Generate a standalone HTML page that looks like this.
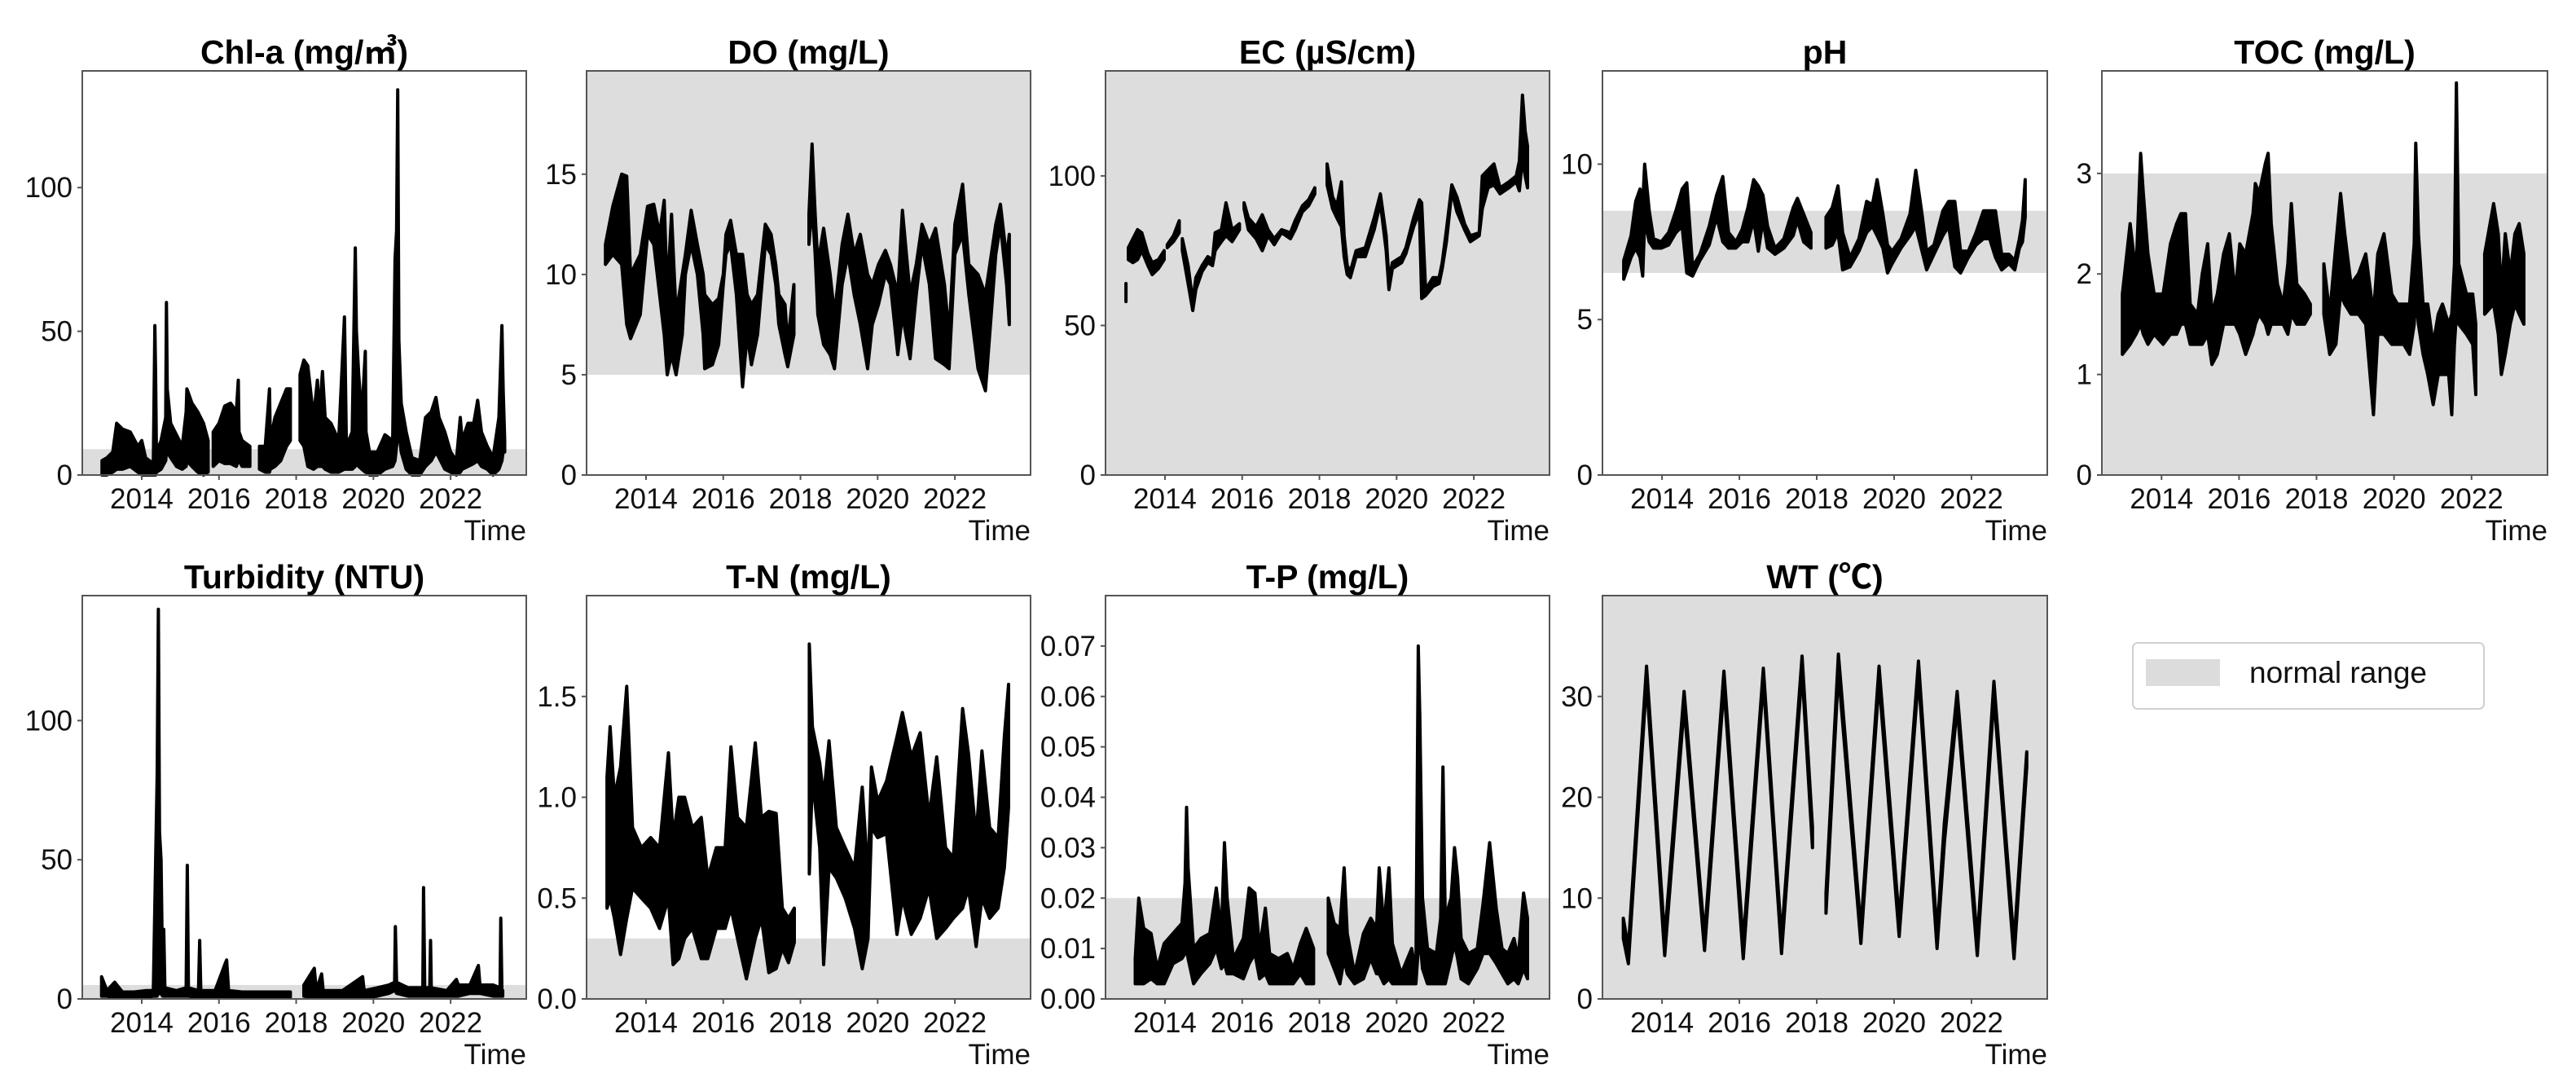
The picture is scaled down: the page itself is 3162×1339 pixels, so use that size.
<!DOCTYPE html>
<html><head><meta charset="utf-8">
<style>
html,body{margin:0;padding:0;background:#fff;}
svg{display:block;font-family:"Liberation Sans","Noto Sans CJK KR",sans-serif;}
</style></head>
<body>
<svg id="fig" width="3162" height="1339" viewBox="0 0 3162 1339" xmlns="http://www.w3.org/2000/svg">
<rect width="3162" height="1339" fill="#fff"/>
<g id="legend">
<rect x="2618" y="789" width="431" height="81" rx="6" fill="#fff" stroke="#d0d0d0" stroke-width="2"/>
<rect x="2634" y="809" width="91" height="33" fill="#dcdcdc"/>
<text x="2761" y="838" font-size="37" fill="#111">normal range</text>
</g>
</svg>
<script>
const xTicks = [2014, 2016, 2018, 2020, 2022];
const xTickLabels = ["2014", "2016", "2018", "2020", "2022"];

const chlData = [[2012.97,0,5],[2013.1,0,6],[2013.25,1,8],[2013.35,2,18],[2013.5,2,16],[2013.7,3,15],[2013.9,1,10],[2014.0,0,12],[2014.1,0,6],[2014.3,0,4],[2014.34,0,52],[2014.36,0,35],[2014.38,1,8],[2014.5,2,12],[2014.62,5,20],[2014.64,8,60],[2014.66,8,30],[2014.75,6,18],[2014.9,3,14],[2015.05,2,10],[2015.15,3,22],[2015.17,5,30],[2015.3,3,25],[2015.45,1,22],[2015.6,0,18],[2015.72,1,12],[2015.78,null,null],[2015.85,3,15],[2016.0,5,18],[2016.15,4,24],[2016.3,4,25],[2016.45,3,22],[2016.5,5,33],[2016.52,5,15],[2016.6,3,12],[2016.8,3,10],[2016.95,null,null],[2017.05,2,10],[2017.2,1,10],[2017.31,1,30],[2017.33,2,12],[2017.45,3,20],[2017.6,5,25],[2017.75,10,30],[2017.85,12,30],[2018.0,null,null],[2018.1,12,35],[2018.2,10,40],[2018.3,3,38],[2018.45,2,20],[2018.55,3,33],[2018.6,3,20],[2018.68,3,36],[2018.75,2,20],[2018.9,1,18],[2019.1,1,12],[2019.25,2,55],[2019.27,2,40],[2019.3,2,10],[2019.45,2,15],[2019.53,3,79],[2019.56,5,50],[2019.62,3,35],[2019.7,2,20],[2019.79,1,43],[2019.81,1,15],[2019.9,0,8],[2020.1,0,8],[2020.3,2,14],[2020.5,3,12],[2020.56,5,75],[2020.6,10,85],[2020.63,15,134],[2020.66,15,47],[2020.72,8,25],[2020.85,2,15],[2021.0,0,6],[2021.2,0,5],[2021.35,3,20],[2021.5,5,22],[2021.62,8,27],[2021.7,6,20],[2021.85,2,15],[2022.0,1,8],[2022.15,0,5],[2022.25,1,20],[2022.3,2,12],[2022.45,3,18],[2022.6,4,18],[2022.7,5,26],[2022.8,3,15],[2022.95,2,10],[2023.1,0,6],[2023.25,2,20],[2023.33,5,52],[2023.36,8,30],[2023.4,8,12]];

const doData = [[2012.95,10.5,11.5],[2013.14,11,13.4],[2013.37,10.5,15],[2013.5,7.5,14.9],[2013.6,6.8,10],[2013.85,8,11],[2014.04,12,13.4],[2014.2,11.5,13.5],[2014.35,9,12],[2014.47,7,13.7],[2014.55,5,9],[2014.66,6,13],[2014.78,5,8],[2014.94,7,10],[2015.02,10,11],[2015.17,11.5,13.2],[2015.33,10,11.5],[2015.48,7,10],[2015.52,5.3,9],[2015.72,5.5,8.5],[2015.88,6.5,8.8],[2016.0,9.5,10],[2016.07,11,12],[2016.19,11.5,12.7],[2016.34,9,11],[2016.5,4.4,11],[2016.62,7,9],[2016.73,5.5,8.5],[2016.89,7,9],[2017.09,11.5,12.5],[2017.24,11,12],[2017.36,9.5,10.5],[2017.44,7.5,9],[2017.6,6,8.5],[2017.67,5.4,6.5],[2017.83,7,9.5],[2018.0,null,null],[2018.22,11.5,13],[2018.3,13.5,16.5],[2018.38,11,13],[2018.45,8,10.5],[2018.6,6.5,12.3],[2018.77,6,10],[2018.88,5.3,8],[2019.08,9.5,11.5],[2019.23,11,13],[2019.39,9,11],[2019.55,7.5,12],[2019.74,5.3,10],[2019.86,7.5,9.5],[2020.02,8.5,10.5],[2020.2,10,11.2],[2020.33,9.5,10.5],[2020.52,6,9],[2020.64,8,13.2],[2020.84,5.8,9],[2021.0,9,10.5],[2021.15,11.5,12.5],[2021.34,9.5,11.5],[2021.5,5.8,12.3],[2021.73,5.5,9.5],[2021.85,5.3,7],[2022.0,11,12.5],[2022.2,12,14.5],[2022.36,9,10.5],[2022.6,5.3,10],[2022.79,4.2,9],[2023.06,11,12.5],[2023.18,12.5,13.5],[2023.34,9.5,10.8],[2023.41,7.5,12]];

const ecData = [[2012.99,58,64],[2013.02,null,null],[2013.05,72,76],[2013.17,71,79],[2013.29,72,82],[2013.4,75,81],[2013.56,70,74],[2013.67,67,71],[2013.83,69,72],[2013.98,72,75],[2014.02,null,null],[2014.06,76,77],[2014.22,78,80],[2014.37,81,85],[2014.41,null,null],[2014.45,75,79],[2014.6,64,70],[2014.72,55,58],[2014.8,62,66],[2014.96,68,70],[2015.11,71,73],[2015.23,70,72],[2015.3,75,81],[2015.46,78,82],[2015.58,80,91],[2015.74,78,82],[2015.93,82,84],[2015.99,null,null],[2016.05,89,91],[2016.16,82,86],[2016.36,79,83],[2016.52,75,87],[2016.67,80,82],[2016.83,77,79],[2017.02,81,82],[2017.25,79,81],[2017.37,82,85],[2017.56,88,90],[2017.72,90,92],[2017.88,94,96],[2018.05,null,null],[2018.2,97,104],[2018.34,89,93],[2018.45,86,90],[2018.57,83,98],[2018.64,73,80],[2018.72,67,70],[2018.8,66,68],[2018.95,73,75],[2019.19,73,76],[2019.42,82,86],[2019.58,91,94],[2019.73,75,80],[2019.8,62,65],[2019.89,69,71],[2020.13,71,73],[2020.24,74,76],[2020.44,83,86],[2020.59,88,92],[2020.65,59,91],[2020.75,60,62],[2020.94,63,66],[2021.1,64,66],[2021.18,69,71],[2021.29,78,82],[2021.43,95,97],[2021.56,88,93],[2021.76,82,84],[2021.91,78,80],[2022.14,80,81],[2022.22,89,100],[2022.37,96,102],[2022.52,97,104],[2022.68,94,96],[2022.91,96,98],[2023.1,98,100],[2023.18,95,105],[2023.26,106,127],[2023.33,100,115],[2023.39,96,110]];

const phData = [[2013.01,6.3,6.9],[2013.2,7.0,7.7],[2013.32,7.3,8.8],[2013.43,7.0,9.2],[2013.5,6.4,8.7],[2013.55,8.2,10.0],[2013.67,7.5,8.5],[2013.78,7.3,7.6],[2013.98,7.3,7.5],[2014.17,7.4,7.8],[2014.36,7.8,8.5],[2014.52,8.0,9.2],[2014.64,6.5,9.4],[2014.79,6.4,6.7],[2014.98,6.9,7.1],[2015.22,7.4,8.0],[2015.41,8.3,9.0],[2015.57,7.5,9.6],[2015.72,7.3,7.8],[2015.91,7.3,7.5],[2016.07,7.5,7.9],[2016.22,7.5,8.6],[2016.37,8.2,9.5],[2016.49,7.2,9.3],[2016.61,8.2,9.0],[2016.73,7.3,8.0],[2016.92,7.1,7.3],[2017.15,7.3,7.6],[2017.39,7.7,8.6],[2017.5,8.2,8.9],[2017.66,7.5,8.4],[2017.85,7.3,7.8],[2018.05,null,null],[2018.24,7.3,8.3],[2018.4,7.4,8.6],[2018.55,7.8,9.3],[2018.67,6.6,7.8],[2018.86,6.7,7.0],[2019.09,7.2,7.6],[2019.29,7.8,8.8],[2019.44,8.0,8.7],[2019.56,7.7,9.5],[2019.71,7.3,8.4],[2019.83,6.5,7.4],[2019.95,6.8,7.2],[2020.18,7.3,7.6],[2020.41,7.7,8.4],[2020.56,8.0,9.8],[2020.72,7.2,8.4],[2020.84,6.6,7.2],[2021.03,7.1,7.4],[2021.26,7.7,8.5],[2021.41,8.0,8.8],[2021.57,6.7,8.8],[2021.72,6.5,7.2],[2021.92,7.0,7.2],[2022.12,7.4,7.8],[2022.31,7.6,8.5],[2022.47,7.6,8.5],[2022.62,7.0,8.5],[2022.78,6.6,7.1],[2022.97,6.8,7.1],[2023.12,6.6,6.9],[2023.24,7.3,7.6],[2023.32,7.5,8.2],[2023.39,8.3,9.5]];

const tocData = [[2012.99,1.2,1.8],[2013.19,1.3,2.5],[2013.34,1.4,2.0],[2013.46,1.5,3.2],[2013.53,1.4,2.8],[2013.65,1.3,2.2],[2013.81,1.4,1.8],[2014.04,1.3,1.8],[2014.23,1.4,2.3],[2014.39,1.4,2.5],[2014.5,1.5,2.6],[2014.62,1.5,2.6],[2014.74,1.3,1.7],[2014.93,1.3,1.6],[2015.05,1.3,2.0],[2015.19,1.4,2.3],[2015.3,1.1,1.6],[2015.44,1.2,1.8],[2015.6,1.5,2.2],[2015.75,1.5,2.4],[2015.9,1.5,1.8],[2016.02,1.4,2.3],[2016.17,1.2,2.2],[2016.36,1.4,2.6],[2016.42,1.5,2.9],[2016.52,1.6,2.8],[2016.68,1.5,3.1],[2016.75,1.4,3.2],[2016.83,1.5,2.5],[2016.99,1.5,1.9],[2017.14,1.5,1.7],[2017.26,1.4,2.1],[2017.35,1.6,2.7],[2017.49,1.5,1.9],[2017.69,1.5,1.8],[2017.84,1.6,1.7],[2018.0,null,null],[2018.19,1.6,2.1],[2018.34,1.2,1.6],[2018.5,1.3,2.3],[2018.62,1.8,2.8],[2018.73,1.7,2.4],[2018.89,1.6,1.9],[2019.08,1.6,2.0],[2019.27,1.5,2.2],[2019.47,0.6,1.6],[2019.58,1.4,2.2],[2019.74,1.4,2.4],[2019.94,1.3,1.8],[2020.09,1.3,1.7],[2020.25,1.3,1.7],[2020.4,1.2,1.7],[2020.52,1.5,2.3],[2020.56,1.8,3.3],[2020.63,1.5,2.4],[2020.75,1.2,1.7],[2020.87,1.0,1.7],[2021.01,0.7,1.3],[2021.14,1.0,1.6],[2021.25,1.0,1.7],[2021.41,1.0,1.5],[2021.49,0.6,1.6],[2021.56,1.3,2.1],[2021.61,1.6,3.9],[2021.67,1.5,2.1],[2021.87,1.4,1.8],[2022.03,1.3,1.8],[2022.11,0.8,1.5],[2022.22,null,null],[2022.34,1.6,2.2],[2022.57,1.7,2.7],[2022.69,1.4,2.4],[2022.77,1.0,1.8],[2022.87,1.2,2.4],[2023.0,1.5,2.0],[2023.12,1.7,2.4],[2023.23,1.6,2.5],[2023.35,1.5,2.2]];

const turbData = [[2012.96,1,8],[2013.1,1,3],[2013.3,0.5,6],[2013.5,0.5,2.5],[2013.8,0.5,2.5],[2014.1,0.5,3],[2014.3,1,3],[2014.4,1,80],[2014.43,2,140],[2014.46,2,60],[2014.5,2,50],[2014.54,1,8],[2014.57,1,25],[2014.6,1,4],[2014.9,1,3],[2015.15,1,4],[2015.18,1,48],[2015.21,1,4],[2015.47,0.5,3],[2015.5,0.5,21],[2015.53,0.5,3],[2015.9,0.5,3],[2016.17,0.5,13],[2016.2,0.5,14],[2016.25,0.5,3],[2016.6,0.5,2.5],[2017.0,0.5,2.5],[2017.5,0.5,2.5],[2017.85,0.5,2.5],[2018.0,null,null],[2018.2,1,5],[2018.47,0.5,11],[2018.52,0.5,3],[2018.66,0.5,9],[2018.7,0.5,3],[2019.2,0.5,3],[2019.72,0.5,8],[2019.76,0.5,3],[2020.1,1,4],[2020.4,2,5],[2020.55,3,6],[2020.57,3,26],[2020.6,2,6],[2020.9,1,4],[2021.28,1,4],[2021.3,1,40],[2021.33,1,4],[2021.46,1,4],[2021.48,1,21],[2021.5,1,4],[2021.9,1,3],[2022.15,1,7],[2022.2,1,5],[2022.5,2,5],[2022.72,2,12],[2022.76,2,5],[2023.1,1,5],[2023.28,1,4],[2023.3,1,29],[2023.33,1,3],[2023.35,1,3]];

const tnData = [[2012.99,0.45,1.1],[2013.07,0.5,1.35],[2013.18,0.4,1.0],[2013.34,0.22,1.15],[2013.5,0.4,1.55],[2013.65,0.55,0.85],[2013.88,0.5,0.75],[2014.12,0.45,0.8],[2014.35,0.35,0.75],[2014.58,0.5,1.22],[2014.7,0.17,0.8],[2014.85,0.2,1.0],[2015.0,0.3,1.0],[2015.2,0.35,0.85],[2015.43,0.2,0.9],[2015.6,0.2,0.6],[2015.82,0.35,0.75],[2016.05,0.35,0.75],[2016.2,0.45,1.25],[2016.37,0.3,0.9],[2016.6,0.1,0.85],[2016.83,0.3,1.27],[2016.99,0.4,0.9],[2017.18,0.13,0.93],[2017.37,0.15,0.92],[2017.53,0.25,0.45],[2017.69,0.18,0.4],[2017.84,0.28,0.45],[2018.0,null,null],[2018.23,0.62,1.76],[2018.31,1.1,1.35],[2018.5,0.75,1.17],[2018.6,0.17,1.0],[2018.74,0.65,1.28],[2018.93,0.6,0.85],[2019.16,0.5,0.75],[2019.4,0.35,0.65],[2019.6,0.15,1.05],[2019.75,0.3,0.6],[2019.84,0.85,1.15],[2020.0,0.8,0.98],[2020.23,0.82,1.08],[2020.5,0.32,1.3],[2020.64,0.5,1.42],[2020.87,0.32,1.2],[2021.1,0.4,1.32],[2021.33,0.55,0.9],[2021.53,0.3,1.2],[2021.76,0.35,0.75],[2021.96,0.4,0.7],[2022.2,0.45,1.44],[2022.35,0.55,1.22],[2022.55,0.26,0.8],[2022.7,0.5,1.23],[2022.9,0.4,0.85],[2023.12,0.45,0.8],[2023.28,0.65,1.3],[2023.39,0.95,1.56]];

const tpData = [[2013.23,0.003,0.008],[2013.32,0.003,0.02],[2013.45,0.003,0.014],[2013.64,0.004,0.013],[2013.8,0.003,0.006],[2013.98,0.003,0.011],[2014.21,0.007,0.013],[2014.44,0.008,0.015],[2014.52,0.009,0.023],[2014.56,0.01,0.038],[2014.6,0.008,0.026],[2014.74,0.003,0.01],[2014.93,0.005,0.012],[2015.16,0.007,0.013],[2015.33,0.01,0.022],[2015.46,0.006,0.013],[2015.54,0.007,0.031],[2015.61,0.005,0.02],[2015.77,0.005,0.008],[2016.03,0.004,0.012],[2016.18,0.007,0.022],[2016.33,0.009,0.021],[2016.45,0.004,0.01],[2016.6,0.005,0.018],[2016.71,0.003,0.009],[2016.94,0.003,0.008],[2017.17,0.003,0.009],[2017.32,0.003,0.006],[2017.51,0.005,0.011],[2017.66,0.003,0.014],[2017.85,0.003,0.01],[2018.0,null,null],[2018.23,0.009,0.02],[2018.38,0.006,0.015],[2018.53,0.003,0.014],[2018.64,0.008,0.026],[2018.72,0.005,0.013],[2018.91,0.003,0.005],[2019.14,0.004,0.013],[2019.33,0.008,0.016],[2019.48,0.005,0.014],[2019.55,0.005,0.026],[2019.67,0.003,0.014],[2019.8,0.004,0.026],[2019.89,0.003,0.011],[2020.12,0.003,0.005],[2020.39,0.003,0.01],[2020.5,0.003,0.005],[2020.56,0.01,0.07],[2020.6,0.012,0.056],[2020.67,0.006,0.02],[2020.8,0.003,0.01],[2021.03,0.003,0.009],[2021.14,0.003,0.016],[2021.2,0.003,0.046],[2021.26,0.003,0.016],[2021.41,0.008,0.02],[2021.5,0.011,0.03],[2021.58,0.008,0.024],[2021.67,0.004,0.012],[2021.86,0.003,0.009],[2022.09,0.006,0.01],[2022.24,0.009,0.019],[2022.41,0.009,0.031],[2022.58,0.007,0.018],[2022.73,0.005,0.01],[2022.88,0.003,0.009],[2023.04,0.004,0.012],[2023.15,0.003,0.008],[2023.29,0.006,0.021],[2023.39,0.004,0.016]];

const wtData = [[2013.0,6,8],[2013.13,3.5,5],[2013.6,31.5,33],[2014.07,4.3,6],[2014.57,29,30.5],[2015.1,4.8,6.2],[2015.6,31,32.5],[2016.1,4,5.6],[2016.62,31.5,32.8],[2017.09,4.5,6],[2017.62,32.5,34],[2017.89,15,17],[2018.05,null,null],[2018.24,8.5,10.5],[2018.56,32.5,34.2],[2019.14,5.5,7],[2019.61,31.5,33],[2020.13,6.2,7.8],[2020.63,32,33.5],[2021.11,5,6.5],[2021.3,15.5,17.5],[2021.63,29,30.5],[2022.15,4.3,5.8],[2022.58,30,31.5],[2023.1,4,5.5],[2023.43,23,24.5]];

const chlYTicks = [0, 50, 100];
const doYTicks = [0, 5, 10, 15];
const ecYTicks = [0, 50, 100];
const phYTicks = [0, 5, 10];
const tocYTicks = [0, 1, 2, 3];
const turbYTicks = [0, 50, 100];
const tnYTicks = [0, 0.5, 1.0, 1.5];
const tnYLabels = ["0.0", "0.5", "1.0", "1.5"];
const tpYTicks = [0, 0.01, 0.02, 0.03, 0.04, 0.05, 0.06, 0.07];
const tpYLabels = ["0.00", "0.01", "0.02", "0.03", "0.04", "0.05", "0.06", "0.07"];
const wtYTicks = [0, 10, 20, 30];

const panels = [
  {name:"chl-a", title:"Chl-a (mg/㎥)", box:[101,87,646,583], y:[0,140.6], ticks:chlYTicks, shade:[0,9], data:chlData},
  {name:"do", title:"DO (mg/L)", box:[720,87,1265,583], y:[0,20.15], ticks:doYTicks, shade:[5,20.15], data:doData},
  {name:"ec", title:"EC (µS/cm)", box:[1357,87,1902,583], y:[0,135.1], ticks:ecYTicks, shade:[0,135.1], data:ecData},
  {name:"ph", title:"pH", box:[1967,87,2513,583], y:[0,13.0], ticks:phYTicks, shade:[6.5,8.5], data:phData},
  {name:"toc", title:"TOC (mg/L)", box:[2580,87,3127,583], y:[0,4.02], ticks:tocYTicks, shade:[0,3], data:tocData},
  {name:"turbidity", title:"Turbidity (NTU)", box:[101,731,646,1226], y:[0,144.9], ticks:turbYTicks, shade:[0,5], data:turbData},
  {name:"t-n", title:"T-N (mg/L)", box:[720,731,1265,1226], y:[0,2.0], ticks:tnYTicks, labels:tnYLabels, shade:[0,0.3], data:tnData},
  {name:"t-p", title:"T-P (mg/L)", box:[1357,731,1902,1226], y:[0,0.08], ticks:tpYTicks, labels:tpYLabels, shade:[0,0.02], data:tpData},
  {name:"wt", title:"WT (℃)", box:[1967,731,2513,1226], y:[0,40], ticks:wtYTicks, shade:[0,40], data:wtData}
];
const X0 = 2012.46, X1 = 2023.96;
const NS = "http://www.w3.org/2000/svg";
const svg = document.getElementById('fig');
const legend = document.getElementById('legend');
function mk(tag, attrs, parent){ const e=document.createElementNS(NS,tag); for(const k in attrs) e.setAttribute(k,attrs[k]); parent.appendChild(e); return e; }

panels.forEach(p=>{
  const [L,T,R,B] = p.box;
  const sx = t => L + (t - X0) / (X1 - X0) * (R - L);
  const sy = v => B - (v - p.y[0]) / (p.y[1] - p.y[0]) * (B - T);
  const g = mk('g', {}, svg);
  
  
  svg.insertBefore(g, legend);
  const sh = mk('rect', {x:L, y:sy(Math.min(p.shade[1], p.y[1])), width:R-L, height:sy(p.shade[0])-sy(Math.min(p.shade[1], p.y[1])), fill:'#dddddd'}, g);
  
  
  const segs=[]; let cur=[];
  p.data.forEach(d=>{ if(d[1]===null){ if(cur.length) segs.push(cur); cur=[]; } else cur.push(d); });
  if(cur.length) segs.push(cur);
  const sg = mk('g', {}, g);
  
  
  segs.forEach(s=>{
    let pts = s.map(d=>sx(d[0]).toFixed(1)+','+sy(d[2]).toFixed(1));
    pts = pts.concat(s.slice().reverse().map(d=>sx(d[0]).toFixed(1)+','+sy(d[1]).toFixed(1)));
    const poly = mk('polygon', {points:pts.join(' '), fill:'#000', stroke:'#000', 'stroke-width':4, 'stroke-linejoin':'round'}, sg);
    
    
  });
  const fr = mk('rect', {x:L, y:T, width:R-L, height:B-T, fill:'none', stroke:'#555', 'stroke-width':2}, g);
  
  
  xTicks.forEach((t,i)=>{
    const x = sx(t);
    mk('line', {x1:x, y1:B, x2:x, y2:B+6, stroke:'#555', 'stroke-width':2}, g);
    const tx = mk('text', {x:x, y:B+41, 'font-size':35, 'text-anchor':'middle', fill:'#111'}, g);
    tx.textContent = xTickLabels[i];
    
    
  });
  p.ticks.forEach((v,i)=>{
    const y = sy(v);
    mk('line', {x1:L-6, y1:y, x2:L, y2:y, stroke:'#555', 'stroke-width':2}, g);
    const tx = mk('text', {x:L-12, y:y+12, 'font-size':35, 'text-anchor':'end', fill:'#111'}, g);
    tx.textContent = p.labels ? p.labels[i] : String(v);
    
    
  });
  const xt = mk('text', {x:R, y:B+80, 'font-size':35, 'text-anchor':'end', fill:'#111'}, g);
  xt.textContent = 'Time';
  
  
  const tt = mk('text', {x:(L+R)/2, y:T-9, 'font-size':41, 'font-weight':'bold', 'text-anchor':'middle', fill:'#000'}, g);
  tt.textContent = p.title;
  
  
});
</script>
</body></html>
